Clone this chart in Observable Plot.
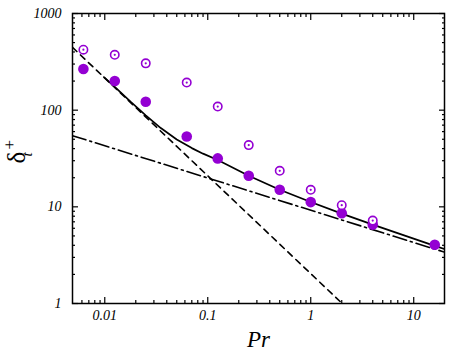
<!DOCTYPE html>
<html><head><meta charset="utf-8">
<script src="https://cdn.jsdelivr.net/npm/d3@7"></script>
<script src="https://cdn.jsdelivr.net/npm/@observablehq/plot@0.6"></script>
<style>
html,body{margin:0;padding:0;background:#fff}
</style>
</head><body><div id="chart"></div>
<script>
// Data
const prFilled = [0.0062, 0.0125, 0.025, 0.0625, 0.125, 0.25, 0.5, 1, 2, 4, 16];
const deltaFilled = [267, 200, 122, 53.4, 31.7, 21, 15, 11.2, 8.6, 6.55, 4.05];
const prOpen = [0.0062, 0.0125, 0.025, 0.0625, 0.125, 0.25, 0.5, 1, 2, 4];
const deltaOpen = [422, 374, 305, 193, 109, 43.5, 23.6, 15.0, 10.4, 7.2];
const prSolid = [0.0098, 0.0125, 0.018, 0.025, 0.035, 0.05, 0.07, 0.09, 0.125, 0.25, 0.5, 1, 2, 4, 16, 19.9];
const deltaSolid = [220, 174, 121, 88.5, 65.3, 49.7, 40.5, 35.5, 30.5, 21, 15, 11.2, 8.5, 6.55, 3.95, 3.65];
const prDashed = [0.00486, 2.02];
const deltaDashed = [446, 1];
const prDashDot = [0.00486, 19.9];
const deltaDashDot = [54.5, 3.4];

const xTicks = [0.01, 0.1, 1, 10];
const xTickLabels = ["0.01", "0.1", "1", "10"];
const yTicks = [1, 10, 100, 1000];
const yTickLabels = ["1", "10", "100", "1000"];
const xMinor = [0.006, 0.007, 0.008, 0.009, 0.02, 0.03, 0.04, 0.05, 0.06, 0.07, 0.08, 0.09,
  0.2, 0.3, 0.4, 0.5, 0.6, 0.7, 0.8, 0.9, 2, 3, 4, 5, 6, 7, 8, 9];
const yMinor = [2, 3, 4, 5, 6, 7, 8, 9, 20, 30, 40, 50, 60, 70, 80, 90, 200, 300, 400, 500, 600, 700, 800, 900];
const xLabel = "Pr";
const yLabelParts = ["δ", "t", "+"];

const zip = (xs, ys) => xs.map((x, i) => ({x, y: ys[i]}));
const filled = zip(prFilled, deltaFilled);
const open = zip(prOpen, deltaOpen);
const solid = zip(prSolid, deltaSolid);
const dashed = zip(prDashed, deltaDashed);
const dashdot = zip(prDashDot, deltaDashDot);
const purple = "#9400d3";
const serif = "Liberation Serif";

const chart = Plot.plot({
  width: 474, height: 353,
  marginLeft: 72, marginRight: 30, marginTop: 13, marginBottom: 50,
  x: {type: "log", domain: [0.00486, 19.9], label: null},
  y: {type: "log", domain: [1, 1000], label: null},
  style: {fontSize: "14px", background: "white", color: "black", overflow: "visible"},
  marks: [
    Plot.line(dashed, {x: "x", y: "y", stroke: "black", strokeWidth: 1.6, strokeDasharray: "6,5", clip: true}),
    Plot.line(dashdot, {x: "x", y: "y", stroke: "black", strokeWidth: 1.6, strokeDasharray: "14,4,2,4", clip: true}),
    Plot.line(solid, {x: "x", y: "y", stroke: "black", strokeWidth: 1.7, clip: true}),
    Plot.dot(filled, {x: "x", y: "y", r: 5.3, fill: purple}),
    Plot.dot(open, {x: "x", y: "y", r: 4.2, stroke: purple, strokeWidth: 1.6, fill: "white"}),
    Plot.dot(open, {x: "x", y: "y", r: 1.1, fill: purple}),
    Plot.axisX(xTicks, {anchor: "bottom", tickSize: -6, fill: "none", label: null, strokeWidth: 1.2}),
    Plot.axisX(xMinor, {anchor: "bottom", tickSize: -3, fill: "none", label: null, strokeWidth: 1.2}),
    Plot.axisX(xTicks, {anchor: "top", tickSize: -6, fill: "none", label: null, strokeWidth: 1.2}),
    Plot.axisX(xMinor, {anchor: "top", tickSize: -3, fill: "none", label: null, strokeWidth: 1.2}),
    Plot.axisY(yTicks, {anchor: "left", tickSize: -6, fill: "none", label: null, strokeWidth: 1.2}),
    Plot.axisY(yMinor, {anchor: "left", tickSize: -3, fill: "none", label: null, strokeWidth: 1.2}),
    Plot.axisY(yTicks, {anchor: "right", tickSize: -6, fill: "none", label: null, strokeWidth: 1.2}),
    Plot.axisY(yMinor, {anchor: "right", tickSize: -3, fill: "none", label: null, strokeWidth: 1.2}),
    Plot.axisX(xTicks, {anchor: "bottom", tickSize: 0, tickPadding: 7, label: null, fontFamily: serif, fontStyle: "italic", fontSize: 14,
      tickFormat: d => xTickLabels[xTicks.indexOf(d)]}),
    Plot.axisY(yTicks, {anchor: "left", tickSize: 0, tickPadding: 11, label: null, fontFamily: serif, fontStyle: "italic", fontSize: 14,
      tickFormat: d => yTickLabels[yTicks.indexOf(d)]}),
    Plot.frame({stroke: "black", strokeWidth: 1.5}),
    Plot.text([xLabel], {frameAnchor: "bottom", text: d => d, dy: 36, fontSize: 23, fontFamily: serif, fontStyle: "italic", lineAnchor: "middle"}),
    Plot.text([yLabelParts[0]], {frameAnchor: "left", text: d => d, dx: -56, dy: 5, rotate: -90, fontSize: 25, fontFamily: serif, fontStyle: "normal", lineAnchor: "middle"}),
    Plot.text([yLabelParts[1]], {frameAnchor: "left", text: d => d, dx: -45, dy: -2, rotate: -90, fontSize: 15, fontFamily: serif, fontStyle: "italic", lineAnchor: "middle"}),
    Plot.text([yLabelParts[2]], {frameAnchor: "left", text: d => d, dx: -63, dy: -9, rotate: -90, fontSize: 17, fontFamily: serif, fontStyle: "normal", lineAnchor: "middle"})
  ]
});
// force the serif face inline on every text element
d3.select(chart).selectAll("text").each(function() {
  this.style.setProperty("font-family", "'Liberation Serif', 'DejaVu Serif', serif", "important");
  const g = this.closest("g");
  const fs = (g && g.getAttribute("font-style")) || this.getAttribute("font-style");
  if (fs) this.style.setProperty("font-style", fs, "important");
});
document.getElementById("chart").appendChild(chart);
</script>
</body></html>
